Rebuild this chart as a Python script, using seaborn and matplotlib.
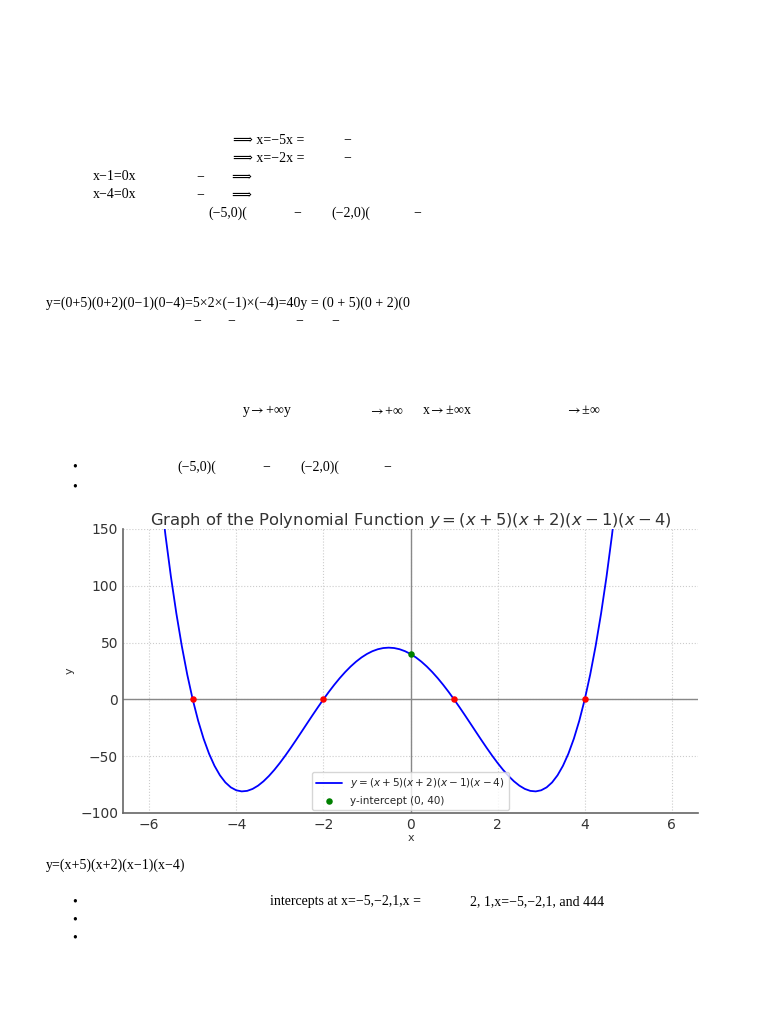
import numpy as np
import pandas as pd
import matplotlib
matplotlib.use("Agg")
import matplotlib.pyplot as plt
import seaborn as sns

# curve values (y = (x+5)(x+2)(x-1)(x-4))
x_vals = [-5.75, -5.625, -5.5, -5.375, -5.25, -5.125, -5.0, -4.875, -4.75, -4.625,
          -4.5, -4.375, -4.25, -4.125, -4.0, -3.875, -3.75, -3.625, -3.5, -3.375,
          -3.25, -3.125, -3.0, -2.875, -2.75, -2.625, -2.5, -2.375, -2.25, -2.125,
          -2.0, -1.875, -1.75, -1.625, -1.5, -1.375, -1.25, -1.125, -1.0, -0.875,
          -0.75, -0.625, -0.5, -0.375, -0.25, -0.125, 0.0, 0.125, 0.25, 0.375,
          0.5, 0.625, 0.75, 0.875, 1.0, 1.125, 1.25, 1.375, 1.5, 1.625,
          1.75, 1.875, 2.0, 2.125, 2.25, 2.375, 2.5, 2.625, 2.75, 2.875,
          3.0, 3.125, 3.25, 3.375, 3.5, 3.625, 3.75, 3.875, 4.0, 4.125,
          4.25, 4.375, 4.5, 4.625, 4.75]
y_vals = [185.1, 144.47, 108.06, 75.64, 46.97, 21.83, 0.0, -18.74, -34.59, -47.76,
          -58.44, -66.82, -73.09, -77.43, -80.0, -80.98, -80.53, -78.80, -75.94, -72.09,
          -67.40, -62.00, -56.0, -49.54, -42.72, -35.65, -28.44, -21.18, -13.96, -6.88,
          0.0, 6.60, 12.85, 18.69, 24.06, 28.92, 33.22, 36.93, 40.0, 42.42,
          44.16, 45.21, 45.56, 45.21, 44.16, 42.42, 40.0, 36.93, 33.22, 28.92,
          24.06, 18.69, 12.85, 6.60, 0.0, -6.88, -13.96, -21.18, -28.44, -35.65,
          -42.72, -49.54, -56.0, -62.00, -67.40, -72.09, -75.94, -78.80, -80.53, -80.98,
          -80.0, -77.43, -73.09, -66.82, -58.44, -47.76, -34.59, -18.74, 0.0, 21.83,
          46.97, 75.64, 108.06, 144.47, 185.1]
root_x = [-5, -2, 1, 4]
root_y = [0, 0, 0, 0]
intercept_x = [0]
intercept_y = [40]

curve = pd.DataFrame({"x": x_vals, "y": y_vals})
roots = pd.DataFrame({"x": root_x, "y": root_y})
yint = pd.DataFrame({"x": intercept_x, "y": intercept_y})

sns.set_style("white")
plt.rcParams["font.family"] = ["DejaVu Sans"]

fig = plt.figure(figsize=(7.68, 10.24), dpi=100)

# page text around the chart
serif = ["Liberation Serif", "DejaVu Serif", "DejaVu Sans"]
fs = 10
arr = r"$\rightarrow$"
txt = [
    (233, 140, "⟹ x=−5x ="), (343, 140, "−"),
    (233, 158, "⟹ x=−2x ="), (343, 158, "−"),
    (93, 177, "x−1=0x"), (196, 177, "−"), (231, 177, "⟹"),
    (93, 195, "x−4=0x"), (196, 195, "−"), (231, 195, "⟹"),
    (208, 213, "(−5,0)("), (293, 213, "−"), (331, 213, "(−2,0)("), (413, 213, "−"),
    (46, 303, "y=(0+5)(0+2)(0−1)(0−4)=5×2×(−1)×(−4)=40y = (0 + 5)(0 + 2)(0"),
    (193, 321, "−"), (227, 321, "−"), (295, 321, "−"), (331, 321, "−"),
    (242, 411, "y" + arr + "+∞y"), (368, 411, arr + "+∞"),
    (422, 411, "x" + arr + "±∞x"), (565, 411, arr + "±∞"),
    (72, 467, "•"), (177, 467, "(−5,0)("), (262, 467, "−"), (300, 467, "(−2,0)("), (383, 467, "−"),
    (72, 487, "•"),
    (46, 865, "y=(x+5)(x+2)(x−1)(x−4)"),
    (72, 902, "•"), (270, 902, "intercepts at x=−5,−2,1,x ="),
    (470, 902, "2, 1,x=−5,−2,1, and 444"),
    (72, 920, "•"), (72, 938, "•"),
]
for px, py, s in txt:
    fig.text(px / 768, 1 - py / 1024, s, family=serif, fontsize=fs,
             math_fontfamily="stix", ha="left", va="center", color="black")

# embedded chart
ax = fig.add_axes([123 / 768, 1 - 813 / 1024, 575 / 768, 284 / 1024])
ax.grid(True, color="#cccccc", linestyle=":", linewidth=0.8)
ax.axhline(0, color="#888888", linewidth=1.0, zorder=1)
ax.axvline(0, color="#888888", linewidth=1.0, zorder=1)

sns.lineplot(data=curve, x="x", y="y", color="blue", linewidth=1.3, ax=ax,
             label="$y = (x + 5)(x + 2)(x - 1)(x - 4)$", sort=False, zorder=3)
sns.scatterplot(data=roots, x="x", y="y", color="red", s=22, linewidth=0,
                ax=ax, legend=False, zorder=4)
sns.scatterplot(data=yint, x="x", y="y", color="green", s=22, linewidth=0,
                ax=ax, label="y-intercept (0, 40)", zorder=4)

ax.set_xlim(-6.6, 6.6)
ax.set_ylim(-100, 150)
ax.set_xticks([-6, -4, -2, 0, 2, 4, 6])
ax.set_yticks([-100, -50, 0, 50, 100, 150])
ax.set_xticklabels(["−6", "−4", "−2", "0", "2", "4", "6"])
ax.set_yticklabels(["−100", "−50", "0", "50", "100", "150"])
ax.tick_params(direction="in", length=4, width=1, colors="#555555",
               labelcolor="#333333", labelsize=10)
for side in ["top", "right"]:
    ax.spines[side].set_visible(False)
for side in ["left", "bottom"]:
    ax.spines[side].set_color("#666666")
    ax.spines[side].set_linewidth(1.2)

ax.set_xlabel("x", fontsize=8, color="#333333", labelpad=1)
ax.set_ylabel("y", fontsize=8, color="#333333", labelpad=4)
ax.set_title("Graph of the Polynomial Function $y = (x + 5)(x + 2)(x - 1)(x - 4)$",
             fontsize=11.8, color="#333333", pad=3)
ax.legend(loc="lower center", fontsize=7.5, frameon=True, borderaxespad=0.3,
          handlelength=2.5)

fig.savefig("out.png", dpi=100, facecolor="white")
